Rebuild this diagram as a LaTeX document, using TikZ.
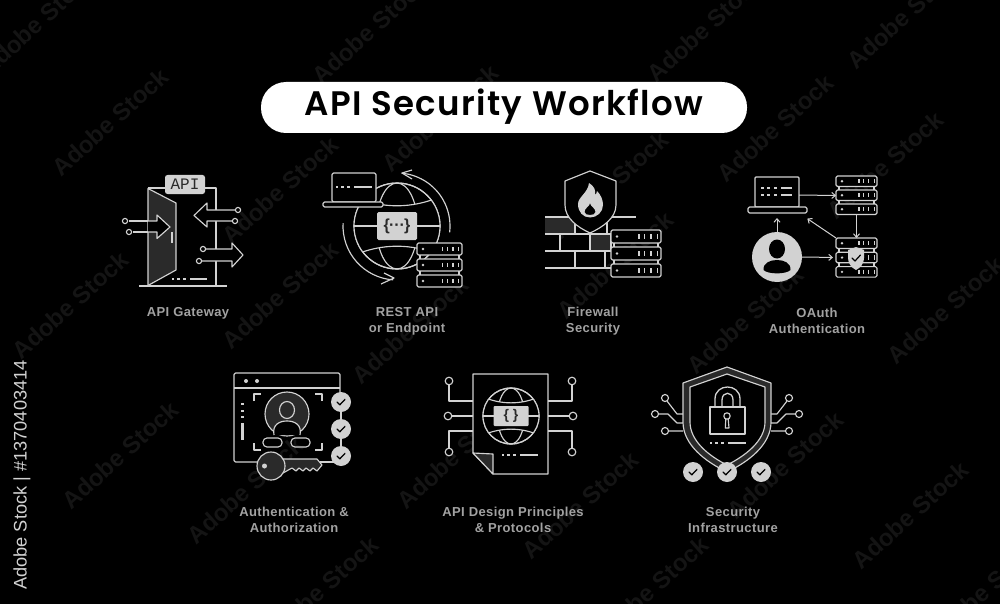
\documentclass[tikz,border=0pt]{standalone}
\usepackage{fontspec}
\setmainfont{Liberation Sans}
\newfontfamily\titlefont[LetterSpace=4]{Poppins SemiBold}
\newfontfamily\labfont[LetterSpace=3]{Liberation Sans}
\newfontfamily\monofont{Liberation Mono}
\usetikzlibrary{arrows.meta}
\definecolor{lt}{HTML}{D2D2D2}
\definecolor{lbl}{HTML}{A2A2A2}
\definecolor{dk}{HTML}{2A2A2A}
\definecolor{wm}{HTML}{141414}
\tikzset{
  ln/.style={draw=lt,line width=1.15pt,line join=round},
  thin ln/.style={draw=lt,line width=1.1pt},
  lab/.style={text=lbl,font=\labfont\bfseries\fontsize{13}{16}\selectfont,align=center,inner sep=0pt,anchor=center},
  wmark/.style={text=wm,font=\bfseries\fontsize{24}{24}\selectfont,rotate=42,anchor=center,inner sep=0pt},
  conn/.style={draw=lt,line width=1pt,-{Straight Barb[length=3.5pt,width=6pt]}},
  anchorbox/.style={inner sep=0pt,outer sep=0pt}
}
\newcommand{\srvstack}[5]{%
 \begin{scope}[shift={(#1,#2)}]
  \foreach \r in {0,1,2}{
   \draw[ln,fill=black,rounded corners=1.5pt] (0,{\r*#5}) rectangle (#3,{\r*#5+#4});
   \fill[lt] (6,{\r*#5+#4/2}) circle (1.3pt);
   \foreach \t in {.56,.67,.8,.93}{\draw[thin ln] ({\t*#3},{\r*#5+#4/2-2.2}) -- ++(0,4.4);}
  }
  \foreach \r in {0,1}{
   \draw[thin ln] (3,{\r*#5+#4}) -- (3,{(\r+1)*#5});
   \draw[thin ln] ({#3-3},{\r*#5+#4}) -- ({#3-3},{(\r+1)*#5});
  }
 \end{scope}}
\newcommand{\chkmark}[3]{%
 \fill[lt] (#1,#2) circle (#3 pt);
 \draw[black,line width=1.3pt,line cap=round,line join=round,shift={(#1,#2)}] (-4,0) -- (-1.2,2.8) -- (4,-2.6);}
\newcommand{\dashrow}[3]{%
 \begin{scope}[shift={(#1,#2)}]
  \foreach \d in {0,5.7,11.4}{\fill[lt] (\d-1.3,-1.2) rectangle (\d+1.3,1.2);}
  \fill[lt] (17,-1.2) rectangle ({17+#3},1.2);
 \end{scope}}
\newcommand{\globe}[3]{%
 \begin{scope}[shift={(#1,#2)}]
  \draw[ln,fill=black] (0,0) circle (#3 pt);
  \begin{scope}
   \clip (0,0) circle (#3 pt);
   \draw[ln] (0,0) ellipse ({.48*#3 pt} and #3 pt);
   \fill[black] ({-#3},{-.68*#3}) .. controls ({-.35*#3},{-.4*#3}) and ({.35*#3},{-.4*#3}) .. ({#3},{-.68*#3}) -- ({#3},{.68*#3}) .. controls ({.35*#3},{.4*#3}) and ({-.35*#3},{.4*#3}) .. ({-#3},{.68*#3}) -- cycle;
   \draw[ln] ({-#3},{-.68*#3}) .. controls ({-.35*#3},{-.4*#3}) and ({.35*#3},{-.4*#3}) .. ({#3},{-.68*#3});
   \draw[ln] ({-#3},{.68*#3}) .. controls ({-.35*#3},{.4*#3}) and ({.35*#3},{.4*#3}) .. ({#3},{.68*#3});
   \draw[ln] ({-#3},0) -- ({#3},0);
  \end{scope}
  \draw[ln] (0,0) circle (#3 pt);
 \end{scope}}
\begin{document}
\begin{tikzpicture}[x=1pt,y=1pt,yscale=-1]
\useasboundingbox (0,0) rectangle (1000,604);
\fill[black] (0,0) rectangle (1000,604);
% watermarks
\foreach \wx/\wy [count=\wi] in {38/22,370/30,705/28,905/15,110/122,440/118,775/128,885/165,280/190,610/185,280/295,70/305,615/265,945/310,410/330,745/320,120/455,455/455,245/490,580/505,785/465,910/515,320/590,650/590,985/590}{
 \node[wmark] (wm\wi) at (\wx,\wy) {Adobe Stock};
}
\node[text=lt,font=\fontsize{18.2}{18}\selectfont,rotate=90,inner sep=0pt] (side) at (22,475) {Adobe Stock | \#1370403414};
% title
\node[fill=white,rounded corners=25pt,minimum width=486pt,minimum height=51pt,inner sep=0pt] (titlepill) at (504,107.5) {};
\node[text=black,font=\titlefont\fontsize{34}{34}\selectfont,inner sep=0pt] (title) at (504,107) {API Security Workflow};

% --- API Gateway
\draw[ln] (148,188) -- (216,188) -- (216,286);
\draw[ln] (139,286) -- (227,286);
\draw[ln,fill=dk] (148,188.5) -- (176,203) -- (176,270) -- (148,285.5) -- cycle;
\draw[ln] (172,232) -- (172,243);
\dashrow{173}{279}{17}
\node[fill=lt,rounded corners=2.5pt,minimum width=40pt,minimum height=19pt,inner sep=0pt,text=dk,font=\monofont\fontsize{16}{16}\selectfont] (apibox) at (185,184.5) {API};
% right pointing in
\draw[ln,fill=black] (148,221) -- (157,221) -- (157,215) -- (170,227) -- (157,238.5) -- (157,232) -- (148,232);
\draw[ln] (129,221) -- (148,221) (133,232) -- (148,232);
\draw[ln,fill=black] (125,221) circle (2.6pt) (129,232) circle (2.6pt);
% left pointing
\draw[ln,fill=black] (235,210) -- (207,210) -- (207,203) -- (194,215.5) -- (207,227) -- (207,221) -- (232,221);
\draw[ln,fill=black] (238,210) circle (2.6pt) (235,221) circle (2.6pt);
% right pointing out
\draw[ln,fill=black] (206,249) -- (232,249) -- (232,243) -- (243,255) -- (232,267) -- (232,261) -- (202,261);
\draw[ln,fill=black] (203,249) circle (2.6pt) (199,261) circle (2.6pt);

% --- REST API
\globe{397}{226}{43}
\draw[ln] (397,226) ++(-85:53pt) arc[start angle=-85,end angle=7,radius=53pt];
\draw[ln] (412,170) -- (402,173) -- (412,179);
\draw[ln] (397,226) ++(183:54pt) arc[start angle=183,end angle=94,radius=54pt];
\draw[ln] (381,284) -- (394,278) -- (384,273);
\draw[ln,fill=black,rounded corners=1.5pt] (332,173) rectangle (376,202);
\draw[ln,fill=black,rounded corners=1.5pt] (323,202) rectangle (383,207);
\dashrow{337}{187}{18}
\node[fill=lt,rounded corners=1.5pt,minimum width=40pt,minimum height=28pt,inner sep=0pt,text=dk,font=\bfseries\fontsize{16}{16}\selectfont] (restbox) at (397,226) {\{\kern-.8pt···\kern-.8pt\}};
\srvstack{417}{243}{45}{12}{16}

% --- Firewall
\fill[dk] (545,217) rectangle (575,234);
\fill[dk] (590,234) rectangle (611,251);
\draw[ln] (545,217) -- (636,217) (545,234) -- (636,234) (545,251) -- (636,251) (545,268) -- (636,268);
\draw[ln] (575,217) -- (575,234) (607,217) -- (607,234) (560,234) -- (560,251) (590,234) -- (590,251) (611,234) -- (611,251) (575,251) -- (575,268) (605,251) -- (605,268);
\draw[ln,fill=black] (590,171) -- (616,181) -- (616,205) .. controls (616,218) and (603,227) .. (590,233) .. controls (577,227) and (565,218) .. (565,205) -- (565,181) -- cycle;
\fill[lt,even odd rule] (590,217.5) .. controls (583,217.5) and (578,212) .. (578,204) .. controls (578,197) and (588,193) .. (589,183) .. controls (594,186) and (596,190) .. (595,195) .. controls (596,194) and (597,193) .. (597,191) .. controls (601,195) and (603,200) .. (603,205) .. controls (603,212) and (597,217.5) .. (590,217.5) -- cycle
 (590,203) .. controls (590,206) and (584.5,208) .. (584.5,212) .. controls (584.5,216) and (595.5,216) .. (595.5,212) .. controls (595.5,208) and (590,206) .. (590,203) -- cycle;
\srvstack{611}{230}{50}{13}{17}

% --- OAuth
\node[draw=lt,line width=1.15pt,fill=black,minimum width=44pt,minimum height=30pt,inner sep=0pt,rounded corners=1pt,anchor=center] (oalaptopscreen) at (777,192) {};
\draw[ln,fill=black,rounded corners=1.5pt] (748,207) rectangle (807,213);
\node[anchorbox,minimum width=44pt,minimum height=36pt] (oalaptop) at (777,195) {};
\begin{scope}
 \foreach \yy in {188,195}{\foreach \xx in {762,768.5,775}{\fill[lt] (\xx-1.5,\yy-1.4) rectangle (\xx+1.5,\yy+1.4);}
 \fill[lt] (781,\yy-1.4) rectangle (792,\yy+1.4);}
\end{scope}
\srvstack{836}{176}{41}{10.5}{14}
\srvstack{836}{238}{41}{10.5}{14.3}
\node[anchorbox,minimum width=41pt,minimum height=39pt] (oasrvA) at (856.5,195.5) {};
\node[anchorbox,minimum width=41pt,minimum height=39pt] (oasrvB) at (856.5,257.5) {};
\fill[lt] (856,247) -- (864,250) -- (864,258) .. controls (864,264) and (860,268) .. (856,270) .. controls (852,268) and (848,264) .. (848,258) -- (848,250) -- cycle;
\draw[black,line width=1.2pt,line cap=round,line join=round] (852,258) -- (855,261) -- (860.5,255);
\node[circle,fill=lt,minimum size=50pt,inner sep=0pt] (oauser) at (777,257) {};
\fill[black] (777,249) ellipse (8pt and 9.5pt);
\fill[black] (763.5,270) .. controls (763,263) and (770,260) .. (777,260) .. controls (784,260) and (791,263) .. (790.5,270) .. controls (786,274.5) and (768,274.5) .. (763.5,270) -- cycle;
\draw[conn] (oalaptop.east) -- (oasrvA.west);
\draw[conn] (oasrvA.south) -- (oasrvB.north);
\draw[conn,shorten >=10pt] (oasrvB.north west) -- (oalaptop.south east);
\draw[conn,shorten >=5pt] (oauser.north) -- (oalaptop.south);
\draw[conn,shorten >=3pt] (oauser.east) -- (oasrvB.west);

% --- Authentication & Authorization
\draw[ln,rounded corners=1.5pt] (275,462) -- (234,462) -- (234,373) -- (340,373) -- (340,395);
\draw[ln] (234,388) -- (340,388);
\draw[ln] (320,462) -- (335,462);
\fill[lt] (246,381) circle (2pt) (257,381) circle (2pt);
\draw[ln] (341,402) -- (341,456);
\chkmark{341}{402}{10}
\chkmark{341}{429}{10}
\chkmark{341}{456}{10}
\draw[ln] (254,401) -- (254,394) -- (261,394) (315,394) -- (322,394) -- (322,401) (322,443) -- (322,450) -- (315,450) (261,450) -- (254,450) -- (254,443);
\draw[ln,fill=dk] (287,414) circle (22pt);
\draw[ln,fill=black] (274,435) .. controls (272,425) and (279,421) .. (287,421) .. controls (295,421) and (302,425) .. (300,435);
\draw[ln,fill=dk] (287,410) ellipse (7.5pt and 8.5pt);
\draw[ln,rounded corners=4pt] (263,438) rectangle (282,447);
\draw[ln,rounded corners=4pt] (291,438) rectangle (310,447);
\foreach \yy in {404,411,417}{\fill[lt] (240.5,\yy-1.2) rectangle (243.5,\yy+1.2);}
\fill[lt] (240.5,423) rectangle (243.5,440);
\draw[ln,fill=dk] (283,459) -- (317,459) -- (322,465) -- (317,471) -- (313,468) -- (310,471) -- (306,468) -- (303,471) -- (299,468) -- (296,471) -- (292,468) -- (283,473) -- cycle;
\draw[ln,fill=dk] (271,466) circle (14pt);
\fill[lt] (264.5,466) circle (2.5pt);

% --- API Design
\draw[ln,fill=black] (473,374) -- (548,374) -- (548,474) -- (493,474) -- (473,453) -- cycle;
\draw[ln,fill=dk] (473,453) -- (493,454) -- (493,474) -- cycle;
\globe{511}{416}{28}
\node[fill=lt,rounded corners=1pt,minimum width=35pt,minimum height=20pt,inner sep=0pt,text=dk,font=\bfseries\fontsize{14}{14}\selectfont] (designbox) at (511,416) {\{ \}};
\dashrow{503}{455}{18}
\draw[ln] (449,385) -- (449,401) -- (473,401) (452,416) -- (473,416) (449,448) -- (449,431) -- (473,431);
\draw[ln] (572,385) -- (572,401) -- (548,401) (569,416) -- (548,416) (572,448) -- (572,431) -- (548,431);
\draw[ln,fill=black] (449,381) circle (3.8pt) (448,416) circle (3.8pt) (449,452) circle (3.8pt) (572,381) circle (3.8pt) (573,416) circle (3.8pt) (572,452) circle (3.8pt);

% --- Security Infrastructure
\draw[ln] (683,414) -- (677,414) -- (667,401) (683,423) -- (677,423) -- (668,414) -- (659,414) (683,431) -- (669,431);
\draw[ln] (771,414) -- (777,414) -- (787,401) (771,423) -- (777,423) -- (786,414) -- (795,414) (771,431) -- (785,431);
\draw[ln,fill=black] (665,398) circle (3.5pt) (655,414) circle (3.5pt) (665,431) circle (3.5pt) (789,398) circle (3.5pt) (799,414) circle (3.5pt) (789,431) circle (3.5pt);
\draw[ln,fill=dk] (727,367) -- (771,383) -- (771,422) .. controls (771,445) and (748,462) .. (727,472) .. controls (706,462) and (683,445) .. (683,422) -- (683,383) -- cycle;
\draw[ln,fill=black] (727,374) -- (765,387) -- (765,422) .. controls (765,441) and (745,456) .. (727,465) .. controls (709,456) and (690,441) .. (690,422) -- (690,387) -- cycle;
\draw[ln,line width=1.3pt] (715,407) -- (715,399) .. controls (715,383) and (740,383) .. (740,399) -- (740,407);
\draw[ln,line width=1.3pt] (722,407) -- (722,400) .. controls (722,391) and (733,391) .. (733,400) -- (733,407);
\draw[ln,line width=1.3pt,fill=black] (710,407) rectangle (745,434);
\draw[ln] (727,416) circle (3.2pt);
\draw[ln] (725.8,419) -- (725.3,428) -- (729,428) -- (728.2,419);
\dashrow{711}{443}{18}
\chkmark{693}{472}{10}
\chkmark{727}{472}{10}
\chkmark{761}{472}{10}

% --- labels
\node[lab] (l1) at (188,313) {API Gateway};
\node[lab] (l2) at (407,321) {REST API\\or Endpoint};
\node[lab] (l3) at (593,321) {Firewall\\Security};
\node[lab] (l4) at (817,321) {OAuth\\Authentication};
\node[lab] (l5) at (294,520) {Authentication \&\\Authorization};
\node[lab] (l6) at (513,520) {API Design Principles\\\& Protocols};
\node[lab] (l7) at (733,520) {Security\\Infrastructure};
\end{tikzpicture}
\end{document}
